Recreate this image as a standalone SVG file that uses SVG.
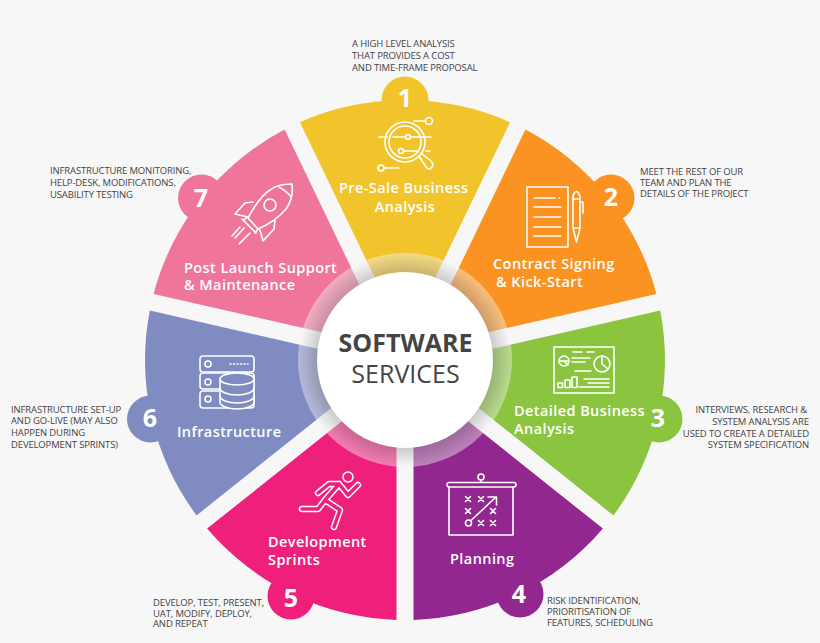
<svg xmlns="http://www.w3.org/2000/svg" width="820" height="643" viewBox="0 0 820 643">
<style>
text{font-family:"Open Sans","Noto Sans","DejaVu Sans",sans-serif}
.num{font-size:25px;font-weight:700;fill:#fff;text-anchor:middle}
.lab{font-size:14.500px;font-weight:600;fill:#fff;letter-spacing:.42px}
.note{font-size:9.500px;fill:#444;letter-spacing:-.14px}
.ic{fill:none;stroke:#fff;stroke-width:1.600;stroke-linecap:round;stroke-linejoin:round}
</style>
<defs>
<radialGradient id="halo" gradientUnits="userSpaceOnUse" cx="405" cy="360" r="108">
<stop offset=".8" stop-color="#fff" stop-opacity=".42"/>
<stop offset="1" stop-color="#fff" stop-opacity=".42"/>
</radialGradient>
<radialGradient id="shade" gradientUnits="userSpaceOnUse" cx="405" cy="360" r="108">
<stop offset=".8" stop-color="#000" stop-opacity=".2"/>
<stop offset="1" stop-color="#000" stop-opacity="0"/>
</radialGradient>
</defs>
<rect width="820" height="643" fill="#f7f7f7"/>

<g id="node-1">
<path fill="#f2c42c" d="M405,340.4L299.9,122.2A260,260 0 0 1 510.1,122.2Z"/>
<circle cx="405" cy="100" r="23.5" fill="#f2c42c"/>
<text class="num" x="405" y="107">1</text>
<g class="ic">
<circle cx="405" cy="142" r="20"/><circle cx="405" cy="142" r="16"/>
<path d="M419,156L426,167Q429,171 432,167Q434,164 431,161L421,153"/>
<path d="M414,121H425M379,137H387M393,137H405M411,137H431M404,151H417M426,151H430M385,168H399"/>
<circle cx="429" cy="121" r="3.5"/><circle cx="408" cy="137" r="2.5"/><circle cx="401" cy="151" r="2.5"/><circle cx="381" cy="168" r="3"/>
</g>
<text class="lab" x="339" y="193">Pre-Sale Business</text>
<text class="lab" x="405" y="212" text-anchor="middle">Analysis</text>
<text class="note" x="352" y="47">A HIGH LEVEL ANALYSIS</text>
<text class="note" x="352" y="59">THAT PROVIDES A COST</text>
<text class="note" x="352" y="71">AND TIME-FRAME PROPOSAL</text>
</g>

<g id="node-2">
<path fill="#fb9322" d="M420.3,347.8L525.4,129.6A260,260 0 0 1 656.4,293.9Z"/>
<circle cx="611" cy="198" r="23.5" fill="#fb9322"/>
<text class="num" x="611" y="206">2</text>
<g class="ic">
<rect x="527" y="187" width="41" height="60"/>
<path d="M534,198H555M559,198H559.5M534,207H561M534,217H561M534,227H561M534,236H561"/>
<path d="M573,196Q576.5,187 580,196V228L576.5,242L573,228ZM573,199H580M573,228H580M580,202H583V213"/>
</g>
<text class="lab" x="493" y="269">Contract Signing</text>
<text class="lab" x="496" y="287">&amp; Kick-Start</text>
<text class="note" x="640" y="175">MEET THE REST OF OUR</text>
<text class="note" x="640" y="186">TEAM AND PLAN THE</text>
<text class="note" x="640" y="197">DETAILS OF THE PROJECT</text>
</g>

<g id="node-3">
<path fill="#8bc53f" d="M424.1,364.4L660.2,310.4A260,260 0 0 1 613.4,515.4Z"/>
<circle cx="659" cy="419" r="23.5" fill="#8bc53f"/>
<text class="num" x="658" y="427">3</text>
<g class="ic">
<rect x="554" y="347" width="60" height="46"/>
<circle cx="564" cy="361" r="5"/><circle cx="602" cy="364" r="8"/>
<path d="M559,361H569M564,361L568,365M602,356V364L608,369M573,352H582M587,352H594M572,358H590M572,362H585M575,371H591M584,379H609M588,383H609M579,387H609"/>
<rect x="558" y="383" width="4.5" height="4.5"/><rect x="565" y="380" width="5" height="7.5"/><rect x="572" y="377" width="5" height="10.500"/>
</g>
<text class="lab" x="514" y="416">Detailed Business</text>
<text class="lab" x="514" y="434">Analysis</text>
<text class="note" x="807" y="413" text-anchor="end">INTERVIEWS, RESEARCH &amp;</text>
<text class="note" x="809" y="425" text-anchor="end">SYSTEM ANALYSIS ARE</text>
<text class="note" x="809" y="437" text-anchor="end">USED TO CREATE A DETAILED</text>
<text class="note" x="809" y="448" text-anchor="end">SYSTEM SPECIFICATION</text>
</g>

<g id="node-4">
<path fill="#92278f" d="M413.500,377.7L602.9,528.6A260,260 0 0 1 413.5,619.9Z"/>
<circle cx="520" cy="594" r="23.5" fill="#92278f"/>
<text class="num" x="519" y="603">4</text>
<g class="ic">
<rect x="447" y="482.500" width="69" height="4.500" rx="2.200"/>
<path d="M449,487V535H513V487M481,480V482.500"/>
<circle cx="481" cy="477" r="3"/><circle cx="468.500" cy="523" r="3"/>
<path d="M470.500,521L496,497M488,497H496.500V505"/>
<path d="M465.500,496.500l5,5m0,-5l-5,5M478.500,496.500l5,5m0,-5l-5,5M465.500,508.500l5,5m0,-5l-5,5M490.500,508.500l5,5m0,-5l-5,5M478.500,520.500l5,5m0,-5l-5,5M490.500,520.500l5,5m0,-5l-5,5"/>
</g>
<text class="lab" x="450" y="564">Planning</text>
<text class="note" x="547" y="604">RISK IDENTIFICATION,</text>
<text class="note" x="547" y="615">PRIORITISATION OF</text>
<text class="note" x="547" y="626">FEATURES, SCHEDULING</text>
</g>

<g id="node-5">
<path fill="#ee207b" d="M396.500,377.7L396.500,619.9A260,260 0 0 1 207.1,528.6Z"/>
<circle cx="291" cy="596" r="23.5" fill="#ee207b"/>
<text class="num" x="291" y="607">5</text>
<circle class="ic" cx="348" cy="477" r="5"/>
<path fill="none" stroke="#fff" stroke-width="6.500" stroke-linecap="round" stroke-linejoin="round" d="M318,493L329,484H339L325,500L340,510L334,527M339,484L348,495L358,485M325,500L318,509H302"/>
<path fill="none" stroke="#ee207b" stroke-width="3.500" stroke-linecap="round" stroke-linejoin="round" d="M318,493L329,484H339L325,500L340,510L334,527M339,484L348,495L358,485M325,500L318,509H302"/>
<text class="lab" x="268" y="547">Development</text>
<text class="lab" x="268" y="565">Sprints</text>
<text class="note" x="153" y="606">DEVELOP, TEST, PRESENT,</text>
<text class="note" x="153" y="617">UAT, MODIFY, DEPLOY,</text>
<text class="note" x="153" y="627">AND REPEAT</text>
</g>

<g id="node-6">
<path fill="#808bc2" d="M385.9,364.4L196.600,515.4A260,260 0 0 1 149.8,310.4Z"/>
<circle cx="150.500" cy="419" r="23.5" fill="#808bc2"/>
<text class="num" x="150" y="427">6</text>
<g class="ic">
<rect x="200" y="356" width="54" height="16" rx="3"/><rect x="200" y="373" width="54" height="16" rx="3"/><rect x="200" y="391" width="54" height="17" rx="3"/>
<circle cx="208" cy="364" r="3"/><circle cx="208" cy="382" r="3"/><circle cx="208" cy="399" r="3"/>
<path stroke-dasharray="1 2.500" d="M230,364H248"/>
<path fill="#808bc2" d="M220,379V402C220,406 228,409 237,409S254,406 254,402V379Z"/>
<ellipse cx="237" cy="379" rx="17" ry="6" fill="#808bc2"/>
<path d="M220,388C220,392 228,395 237,395S254,392 254,388M220,396C220,400 228,403 237,403S254,400 254,396"/>
</g>
<text class="lab" x="177" y="437">Infrastructure</text>
<text class="note" x="11" y="413">INFRASTRUCTURE SET-UP</text>
<text class="note" x="11" y="424">AND GO-LIVE (MAY ALSO</text>
<text class="note" x="11" y="436">HAPPEN DURING</text>
<text class="note" x="11" y="448">DEVELOPMENT SPRINTS)</text>
</g>

<g id="node-7">
<path fill="#f0759b" d="M389.7,347.8L153.6,293.9A260,260 0 0 1 284.6,129.6Z"/>
<circle cx="201.500" cy="198" r="23.5" fill="#f0759b"/>
<text class="num" x="201" y="207">7</text>
<g class="ic">
<path d="M292,184C283,184 275,186 270,190C262,195 255,205 248,218L258,229C270,224 280,216 286,209C291,202 293,192 292,184Z"/>
<path d="M279,187C284,190 289,193 291,197"/>
<circle cx="270" cy="205" r="6"/>
<path d="M253,202L245,203L235,214L248,217M275,220L274,229L263,241L260,230M242,219L256,233M247,217L244,220M258,229L255,233"/>
<path d="M250,233L239,244M244,228L235,238M240,227L232,236"/>
</g>
<text class="lab" x="184" y="273">Post Launch Support</text>
<text class="lab" x="184" y="290">&amp; Maintenance</text>
<text class="note" x="50" y="174">INFRASTRUCTURE MONITORING,</text>
<text class="note" x="50" y="186">HELP-DESK, MODIFICATIONS,</text>
<text class="note" x="50" y="198">USABILITY TESTING</text>
</g>

<g id="hub">
<circle cx="405" cy="360" r="107" fill="url(#halo)"/>
<circle cx="405" cy="360" r="108" fill="url(#shade)"/>
<circle cx="405" cy="360" r="88" fill="#fff"/>
<text x="405.500" y="352" text-anchor="middle" font-size="25" font-weight="700" fill="#444">SOFTWARE</text>
<text x="405.500" y="383" text-anchor="middle" font-size="25" fill="#444">SERVICES</text>
</g>
</svg>
